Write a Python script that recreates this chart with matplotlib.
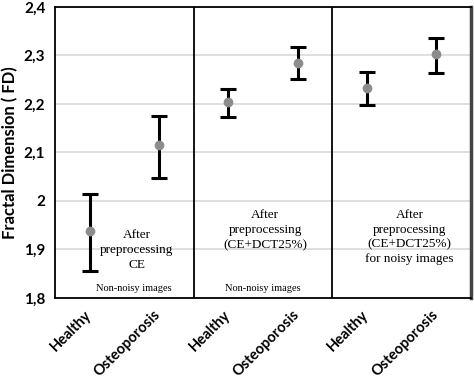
import matplotlib
matplotlib.use('Agg')
import matplotlib.pyplot as plt
import matplotlib.transforms as mtransforms
import numpy as np

# Data
categories = ['Healthy', 'Osteoporosis', 'Healthy', 'Osteoporosis', 'Healthy', 'Osteoporosis']
means = [1.939, 2.115, 2.205, 2.285, 2.232, 2.303]
upper = [2.015, 2.176, 2.231, 2.317, 2.266, 2.336]
lower = [1.856, 2.048, 2.173, 2.252, 2.197, 2.264]
yticks = [1.8, 1.9, 2.0, 2.1, 2.2, 2.3, 2.4]
ytick_labels = ['1,8', '1,9', '2', '2,1', '2,2', '2,3', '2,4']

x = np.arange(len(categories))
err_lo = np.array(means) - np.array(lower)
err_hi = np.array(upper) - np.array(means)

plt.rcParams['font.family'] = ['Lato', 'DejaVu Sans']

fig = plt.figure(figsize=(4.74, 3.86), dpi=100)
ax = fig.add_axes([0.116, 0.228, 0.878, 0.754])

ax.errorbar(x, means, yerr=[err_lo, err_hi], fmt='o', color='#8c8c8c',
            ecolor='black', elinewidth=2.2, capsize=6, capthick=2.2,
            markersize=6, zorder=3)

ax.set_xlim(-0.5, 5.5)
ax.set_ylim(1.8, 2.4)
ax.set_yticks(yticks)
ax.set_yticklabels(ytick_labels, fontsize=11, fontweight='bold')
ax.set_xticks(x)
ax.set_xticklabels(categories, rotation=45, ha='right', rotation_mode='anchor',
                   fontsize=10.5, fontweight='bold')
ax.tick_params(axis='both', length=0, pad=7)
# shift x labels slightly left, like the reference
offset = mtransforms.ScaledTranslation(-4 / 72, 0, fig.dpi_scale_trans)
for lab in ax.get_xticklabels():
    lab.set_transform(lab.get_transform() + offset)

ax.yaxis.grid(True, color='#d9d9d9', linewidth=1.2)
ax.set_axisbelow(True)
for s in ax.spines.values():
    s.set_linewidth(1.3)
ax.spines['right'].set_linewidth(2.5)
ax.spines['right'].set_color('#444444')

# panel dividers
for xd in [1.5, 3.5]:
    ax.axvline(xd, color='black', linewidth=1.3)

ax.set_ylabel('Fractal Dimension ( FD)', fontsize=12, fontweight='bold')
ax.yaxis.set_label_coords(-0.088, 0.5)

serif = 'Liberation Serif'
ax.text(0.68, 1.899, 'After\npreprocessing\nCE', ha='center', va='center',
        fontsize=9.5, family=serif, linespacing=1.3)
ax.text(2.53, 1.940, 'After\npreprocessing\n(CE+DCT25%)', ha='center', va='center',
        fontsize=9.5, family=serif, linespacing=1.3)
ax.text(4.61, 1.926, 'After\npreprocessing\n(CE+DCT25%)\nfor noisy images', ha='center',
        va='center', fontsize=9.5, family=serif, linespacing=1.3)
ax.text(0.63, 1.819, 'Non-noisy images', ha='center', va='center', fontsize=7.5, family=serif)
ax.text(2.5, 1.819, 'Non-noisy images', ha='center', va='center', fontsize=7.5, family=serif)

fig.savefig('out.png', dpi=100)
